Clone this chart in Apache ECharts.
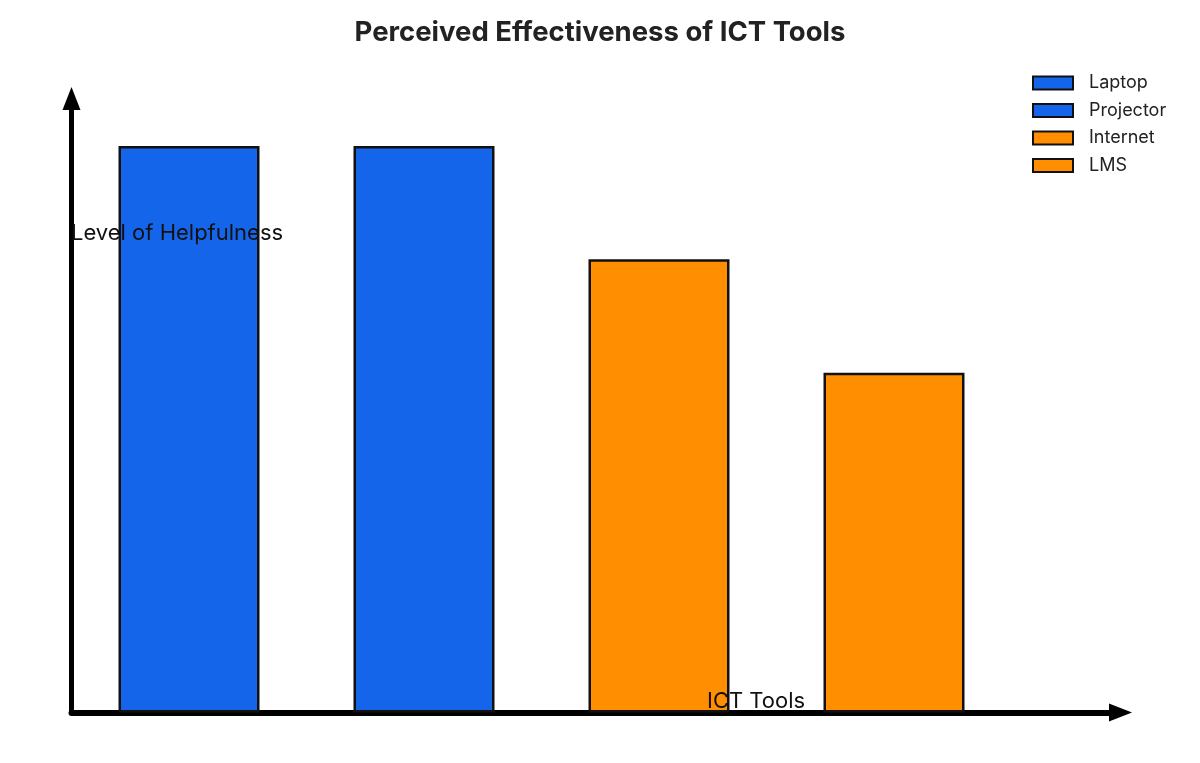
<!DOCTYPE html>
<html>
<head>
<meta charset="utf-8">
<script src="https://cdn.jsdelivr.net/npm/echarts@6/dist/echarts.min.js"></script>
<style>
  html, body { margin: 0; padding: 0; background: #fff; }
  #main { width: 1200px; height: 763px; }
</style>
</head>
<body>
<div id="main"></div>
<script>
// data
var tools = ['Laptop', 'Projector', 'Internet', 'LMS'];
var helpfulness = [5, 5, 4, 3];
var toolColors = ['#1565eb', '#1565eb', '#ff8f00', '#ff8f00'];

var font = 'Inter, "Noto Sans", sans-serif';

// one stacked series per tool so each gets a legend entry
var series = tools.map(function (name, i) {
  return {
    name: name,
    type: 'bar',
    stack: 'all',
    barWidth: 141,
    xAxisIndex: 0,
    yAxisIndex: 0,
    itemStyle: { color: toolColors[i], borderColor: '#111', borderWidth: 2.5 },
    data: tools.map(function (t, j) { return j === i ? helpfulness[j] : null; })
  };
});

var arrowLine = function (w) {
  return {
    show: true,
    symbol: ['none', 'triangle'],
    symbolSize: [18, 23],
    symbolOffset: [0, 0],
    lineStyle: { color: '#000', width: w }
  };
};

var myChart = echarts.init(document.getElementById('main'));
myChart.setOption({
  animation: false,
  title: {
    text: 'Perceived Effectiveness of ICT Tools',
    left: 'center',
    top: 14,
    textStyle: { fontFamily: font, fontSize: 27.5, fontWeight: 'bold', color: '#222' }
  },
  legend: {
    orient: 'vertical',
    left: 1027,
    top: 69,
    icon: 'rect',
    itemWidth: 40,
    itemHeight: 13,
    itemGap: 9.5,
    data: tools,
    itemStyle: { borderColor: '#111', borderWidth: 2 },
    textStyle: { fontFamily: font, fontSize: 18, color: '#222', padding: [0, 0, 0, 11] }
  },
  grid: [
    { left: 71.5, width: 940, top: 98.5, bottom: 50.5 },
    { left: 71.5, right: 79.5, top: 98.5, bottom: 50.5 }
  ],
  xAxis: [
    {
      type: 'category', gridIndex: 0, data: tools,
      axisLine: { show: false }, axisTick: { show: false }, axisLabel: { show: false }
    },
    {
      type: 'value', gridIndex: 1, min: 0, max: 1,
      axisLine: arrowLine(6),
      axisTick: { show: false }, axisLabel: { show: false }, splitLine: { show: false }
    }
  ],
  yAxis: [
    {
      type: 'value', gridIndex: 0, min: 0, max: 5.42,
      axisLine: { show: false }, axisTick: { show: false }, axisLabel: { show: false },
      splitLine: { show: false }
    },
    {
      type: 'value', gridIndex: 1, min: 0, max: 5.42,
      axisLine: arrowLine(5),
      axisTick: { show: false }, axisLabel: { show: false }, splitLine: { show: false }
    }
  ],
  graphic: [
    {
      type: 'text', left: 71, top: 222, z: 10,
      style: { text: 'Level of Helpfulness', fontFamily: font, fontSize: 22, fill: '#111' }
    },
    {
      type: 'text', left: 707, top: 690, z: 10,
      style: { text: 'ICT Tools', fontFamily: font, fontSize: 22, fill: '#111' }
    }
  ],
  series: series
});
</script>
</body>
</html>
